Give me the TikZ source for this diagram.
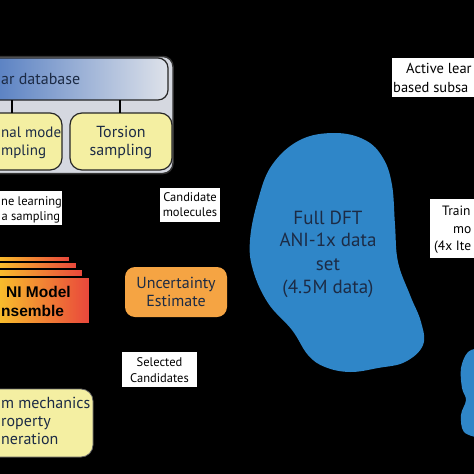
\documentclass[tikz,border=0pt]{standalone}
\usepackage{fontspec}
\setmainfont{PT Sans}
\newfontfamily\boldfont{Liberation Sans}
\usetikzlibrary{shapes.geometric}
\definecolor{blobblue}{HTML}{2F86C8}
\definecolor{navy}{HTML}{1C2B45}
\definecolor{ylw}{HTML}{F4EFA2}
\definecolor{outergrey}{HTML}{D5D8E0}
\definecolor{orng}{HTML}{F5A443}
\definecolor{stackl}{HTML}{F9C22B}
\definecolor{stackr}{HTML}{E9463C}
\tikzset{
  ylwbox/.style={draw=black!85, line width=1.2pt, fill=ylw, rounded corners=12pt},
  whitebox/.style={fill=white, draw=none},
  txt/.style={inner sep=0pt, text=navy, font=\fontsize{16}{18}\selectfont},
  cuttxt/.style={inner sep=0pt, text=navy, font=\fontsize{15}{18}\selectfont},
  lbl/.style={inner sep=0pt, text=black, font=\fontsize{12.5}{15}\selectfont},
  stack/.style={draw=black, line width=1.2pt, shading=axis, left color=stackl, right color=stackr},
  blobtxt/.style={inner sep=0pt, text=navy, font=\fontsize{19}{23}\selectfont, anchor=base},
}
\begin{document}
\begin{tikzpicture}[x=1pt,y=-1pt]
\fill[black] (0,0) rectangle (474,474);
\useasboundingbox (0,0) rectangle (474,474);
\clip (0,0) rectangle (474,474);
% database block
\node[draw=black!80, line width=1.5pt, fill=outergrey, rounded corners=10pt, minimum width=200pt, minimum height=117pt, inner sep=0pt] (outer) at (73,115) {};
\node[draw=black!85, line width=1.2pt, rounded corners=10pt, shading=axis, left color={rgb,255:red,80;green,122;blue,192}, right color={rgb,255:red,222;green,226;blue,234}, minimum width=185pt, minimum height=42pt, inner sep=0pt] (db) at (75.5,79) {};
\node[ylwbox, minimum width=90pt, minimum height=57pt, inner sep=0pt] (normal) at (17,141.5) {};
\node[ylwbox, minimum width=102pt, minimum height=57pt, inner sep=0pt] (torsion) at (121,141.5) {};
\coordinate (c1) at (12,100); \coordinate (c2) at (12,113);
\coordinate (c3) at (120,100); \coordinate (c4) at (120,113);
\draw[line width=1.2pt] (c1) -- (c2);
\draw[line width=1.2pt] (c3) -- (c4);
\node[txt, anchor=base west] (dbt) at (1,84) {ar database};
\node[cuttxt, anchor=base west] (nm1) at (1,137) {nal mode};
\node[cuttxt, anchor=base west] (nm2) at (1,155) {mpling};
\node[txt, anchor=base] (ts1) at (121,137) {Torsion};
\node[txt, anchor=base] (ts2) at (121,155) {sampling};
% ML sampling label
\node[whitebox, minimum width=67pt, minimum height=34pt] (mlbox) at (28.5,208) {};
\node[lbl, anchor=base west] (ml1) at (1,205) {ne learning};
\node[lbl, anchor=base west] (ml2) at (1.5,220) {a sampling};
% Candidate molecules
\node[whitebox, minimum width=60pt, minimum height=34pt] (candbox) at (190,205) {};
\node[lbl, anchor=base] (cm1) at (190,201) {Candidate};
\node[lbl, anchor=base] (cm2) at (190,216) {molecules};
% ANI ensemble stack
\path[stack] (-5,256) rectangle (70,303);
\path[stack] (-5,262) rectangle (77,309);
\path[stack] (-5,269) rectangle (83,316);
\node[stack, minimum width=95pt, minimum height=47pt, inner sep=0pt] (ens) at (42.5,300.5) {};
\node[inner sep=0pt, anchor=base west, font=\boldfont\bfseries\fontsize{15.5}{18}\selectfont] (en1) at (6,297) {NI Model};
\node[inner sep=0pt, anchor=base west, font=\boldfont\bfseries\fontsize{15.5}{18}\selectfont] (en2) at (1,316) {nsemble};
% Uncertainty
\node[fill=orng, rounded corners=10pt, minimum width=102pt, minimum height=50pt, inner sep=0pt] (unc) at (176,292) {};
\node[txt, anchor=base] (u1) at (176,288) {Uncertainty};
\node[txt, anchor=base] (u2) at (176,306) {Estimate};
% Selected candidates
\node[whitebox, minimum width=75pt, minimum height=35pt] (selbox) at (159.5,369.5) {};
\node[lbl, anchor=base] (s1) at (159.5,366) {Selected};
\node[lbl, anchor=base] (s2) at (159.5,382) {Candidates};
% QM property generation
\node[fill=ylw, draw=black!60, line width=0.8pt, rounded corners=12pt, minimum width=113pt, minimum height=68pt, inner sep=0pt] (qm) at (36.5,423) {};
\node[txt, anchor=base west] (q1) at (1,408) {m mechanics};
\node[txt, anchor=base west] (q2) at (1,426) {roperty};
\node[txt, anchor=base west] (q3) at (1,444) {neration};
% Blob
\fill[blobblue] plot[smooth cycle, tension=0.65] coordinates {(335,133) (365,140) (383,158) (392,185) (395,225) (398,262) (410,295) (421,322) (423,345) (405,362) (378,368) (350,372) (325,367) (308,355) (292,330) (268,303) (253,270) (250,240) (258,200) (272,165) (300,140)};
\node[blobtxt] (b1) at (328,224) {Full DFT};
\node[blobtxt] (b2) at (328,246) {ANI-1x data};
\node[blobtxt] (b3) at (328,270) {set};
\node[blobtxt] (b4) at (328,293) {(4.5M data)};
% second blob
\fill[blobblue] plot[smooth, tension=0.6] coordinates {(480,348) (468,352) (461,368) (462,388) (466,400) (461,415) (464,432) (480,438)} -- cycle;
% Active learning label
\node[whitebox, minimum width=90pt, minimum height=39pt] (albox) at (437,77.5) {};
\node[lbl, font=\fontsize{14.5}{18}\selectfont, anchor=base west] (a1) at (406,73) {Active lear};
\node[lbl, font=\fontsize{14.5}{18}\selectfont, anchor=base west] (a2) at (393,92) {based subsa};
% Train label
\node[whitebox, minimum width=50pt, minimum height=59pt] (trbox) at (455,228.5) {};
\node[lbl, font=\fontsize{13.5}{17}\selectfont, anchor=base west] (t1) at (442,215) {Train};
\node[lbl, font=\fontsize{13.5}{17}\selectfont, anchor=base west] (t2) at (453,233) {mo};
\node[lbl, font=\fontsize{13.5}{17}\selectfont, anchor=base west] (t3) at (434,250) {(4x Ite};
\end{tikzpicture}
\end{document}
